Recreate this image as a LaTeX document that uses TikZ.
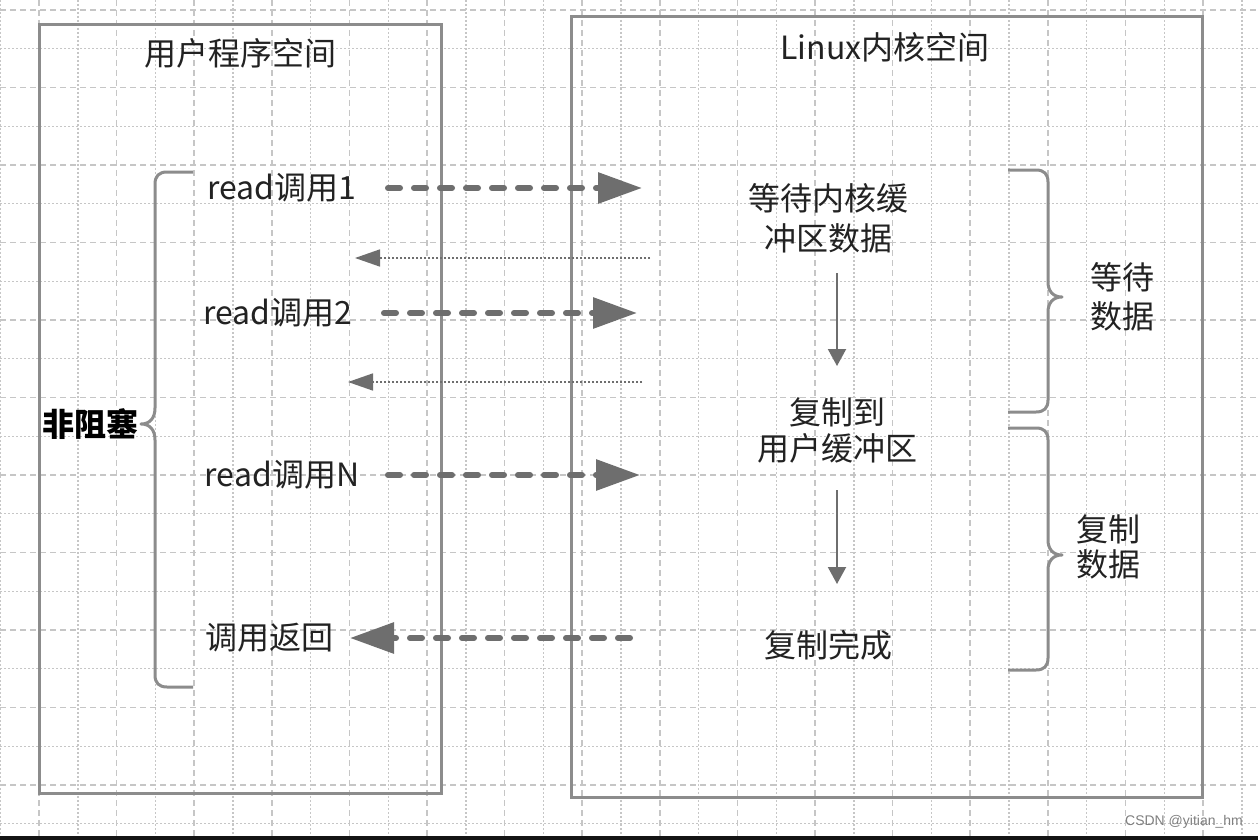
\documentclass[tikz,border=0pt]{standalone}
\usepackage{fontspec}
\setmainfont{Noto Sans CJK SC}
\newfontfamily\wmfont{Liberation Sans}
\usetikzlibrary{arrows.meta,fit}
\definecolor{gridc}{HTML}{C6C6C6}
\definecolor{boxc}{HTML}{8C8C8C}
\definecolor{arrc}{HTML}{6E6E6E}
\definecolor{txtc}{HTML}{222222}
\begin{document}
\begin{tikzpicture}[x=0.5pt,y=-0.5pt,
  gridmaj/.style={gridc, line width=0.8pt, dash pattern=on 3pt off 2pt},
  gridmin/.style={gridc, line width=0.7pt, dash pattern=on 0.8pt off 1.2pt},
  panel/.style={draw=boxc, line width=1.5pt, inner sep=0pt},
  lbl/.style={text=txtc, font=\fontsize{16pt}{20pt}\selectfont, inner sep=0pt, align=center},
  bigarrow/.style={draw=arrc, line width=3pt, line cap=round, dash pattern=on 6pt off 7pt,
     -{Triangle[length=22pt,width=15pt,fill=arrc]}},
  thinarrow/.style={draw=arrc, line width=0.8pt, dash pattern=on 1pt off 1pt,
     -{Triangle[length=12.5pt,width=8.5pt,fill=arrc]}},
  vline/.style={draw=arrc, line width=1pt, -{Triangle[length=8.5pt,width=9pt,fill=arrc]}},
  brace/.style={draw=boxc, line width=1.5pt, line join=round}
]
\useasboundingbox (0,0) rectangle (1258,840);
\fill[white] (0,0) rectangle (1258,840);
% grid
\foreach \j [evaluate=\j as \xx using 39+77.6*\j] in {0,...,15}
  \draw[gridmaj] (\xx,0) -- (\xx,840);
\foreach \j [evaluate=\j as \xx using 77.8+77.6*\j] in {-1,...,15}
  \draw[gridmin] (\xx,0) -- (\xx,840);
\foreach \i [evaluate=\i as \yy using 10+77.5*\i] in {0,...,10}
  \draw[gridmaj] (0,\yy) -- (1258,\yy);
\foreach \i [evaluate=\i as \yy using 48.75+77.5*\i] in {0,...,10}
  \draw[gridmin] (0,\yy) -- (1258,\yy);
\fill[black!92] (0,836) rectangle (1258,840);

% panels
\coordinate (uTL) at (39,25);
\coordinate (uBR) at (441,793);
\coordinate (kTL) at (571,17);
\coordinate (kBR) at (1202,797);
\node[panel, fit=(uTL)(uBR)] (user) {};
\node[panel, fit=(kTL)(kBR)] (kern) {};

% titles
\node[lbl] (tuser) at (240,53) {用户程序空间};
\node[lbl] (tkern) at (885,47) {Linux内核空间};

% left texts
\node[lbl] (r1) at (282,188) {read调用1};
\node[lbl] (r2) at (278,313) {read调用2};
\node[lbl] (rN) at (282,475) {read调用N};
\node[lbl] (ret) at (269,638) {调用返回};
\node[lbl, font=\fontsize{16pt}{20pt}\selectfont\bfseries, text=black] (nb) at (90,424) {非阻塞};

% kernel texts
\node[lbl] (k1) at (828,218) {等待内核缓\\冲区数据};
\node[lbl, font=\fontsize{16pt}{18pt}\selectfont] (k2) at (837,430) {复制到\\用户缓冲区};
\node[lbl] (k3) at (828,645) {复制完成};

% brace labels
\node[lbl, font=\fontsize{16pt}{19.5pt}\selectfont] (wd) at (1122,297) {等待\\数据};
\node[lbl, font=\fontsize{16pt}{17.5pt}\selectfont] (cd) at (1108,547) {复制\\数据};

% watermark
\node[inner sep=0pt, text=black!50, font=\wmfont\fontsize{7pt}{8pt}\selectfont] (wm) at (1184,822) {CSDN @yitian\_hm};

% connector end points
\coordinate (a1s) at (388,188);  \coordinate (a1e) at (642,188);
\coordinate (d1s) at (650,258);  \coordinate (d1e) at (355,258);
\coordinate (a2s) at (384,313);  \coordinate (a2e) at (637,313);
\coordinate (d2s) at (642,382);  \coordinate (d2e) at (348,382);
\coordinate (aNs) at (388,475);  \coordinate (aNe) at (640,475);
\coordinate (aRs) at (630,638);  \coordinate (aRe) at (350,638);
\coordinate (v1s) at (837,273);  \coordinate (v1e) at (837,366);
\coordinate (v2s) at (837,490);  \coordinate (v2e) at (837,584);

\draw[bigarrow] (a1s) -- (a1e);
\draw[thinarrow] (d1s) -- (d1e);
\draw[bigarrow] (a2s) -- (a2e);
\draw[thinarrow] (d2s) -- (d2e);
\draw[bigarrow] (aNs) -- (aNe);
\draw[bigarrow] (aRs) -- (aRe);
\draw[vline] (v1s) -- (v1e);
\draw[vline] (v2s) -- (v2e);

% left brace
\draw[brace] (193,172) -- (167,172) .. controls (159,172) and (155,176) .. (155,184)
  -- (155,408) .. controls (155,418) and (150,424) .. (141,424)
  .. controls (150,424) and (155,430) .. (155,440)
  -- (155,675) .. controls (155,683) and (159,687) .. (167,687) -- (193,687);

% right braces
\draw[brace] (1008,170) -- (1036,170) .. controls (1044,170) and (1048,174) .. (1048,182)
  -- (1048,282) .. controls (1048,291) and (1053,297) .. (1062,297)
  .. controls (1053,297) and (1048,303) .. (1048,312)
  -- (1048,400) .. controls (1048,408) and (1044,412) .. (1036,412) -- (1008,412);
\draw[brace] (1008,428) -- (1036,428) .. controls (1044,428) and (1048,432) .. (1048,440)
  -- (1048,540) .. controls (1048,549) and (1053,555) .. (1062,555)
  .. controls (1053,555) and (1048,561) .. (1048,570)
  -- (1048,658) .. controls (1048,666) and (1044,670) .. (1036,670) -- (1008,670);
\end{tikzpicture}
\end{document}
